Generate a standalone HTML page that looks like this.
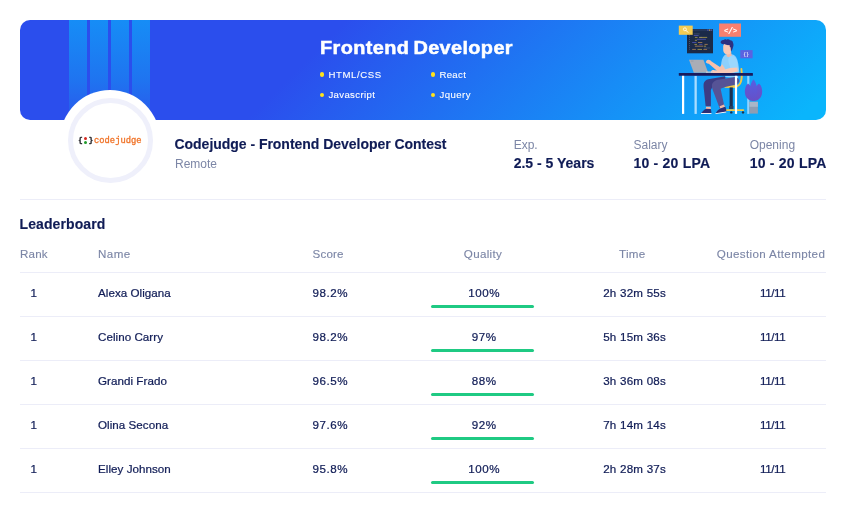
<!DOCTYPE html>
<html lang="en">
<head>
<meta charset="utf-8">
<title>Codejudge - Frontend Developer Contest</title>
<style>
*{box-sizing:border-box;margin:0;padding:0}
html,body{width:846px;height:505px;background:#fff;overflow:hidden}
body{font-family:"Liberation Sans",Arial,sans-serif;color:#101c56;position:relative}
.banner{position:absolute;left:20px;top:20px;width:806px;height:100px;border-radius:10px;overflow:hidden;
 background:linear-gradient(135deg,#2b4eed 0%,#2b4eed 36%,#0ab5fc 97%)}
.stripes{position:absolute;left:49px;top:0;height:100px;width:81px;
 background:
  linear-gradient(180deg,#168df6 0%,#1f74f0 60%,#2a58ec 100%) 0 0/18px 100% no-repeat,
  linear-gradient(180deg,#168df6 0%,#1f74f0 60%,#2a58ec 100%) 21px 0/18px 100% no-repeat,
  linear-gradient(180deg,#168df6 0%,#1f74f0 60%,#2a58ec 100%) 42px 0/18px 100% no-repeat,
  linear-gradient(180deg,#168df6 0%,#1f74f0 60%,#2a58ec 100%) 63px 0/18px 100% no-repeat}
.btitle{position:absolute;left:299.6px;top:16.4px;font-size:18.6px;line-height:24px;font-weight:700;color:#fff;white-space:nowrap;letter-spacing:0.35px;-webkit-text-stroke:0.5px #fff;transform-origin:0 50%;transform:scaleX(1.07);word-spacing:-1.6px}
.skill{position:absolute;font-size:9.6px;line-height:12px;color:#fff;white-space:nowrap;padding-left:8.4px;-webkit-text-stroke:0.1px #fff}
.skill:before{content:"";position:absolute;left:-0.2px;top:3.6px;width:4.2px;height:4.2px;border-radius:50%;background:#ffe31c}
.illus{position:absolute;left:650px;top:0}
.avatar{position:absolute;left:60px;top:90px;width:100px;height:100px;border-radius:50%;background:#fff}
.avatar .ring{position:absolute;left:7.5px;top:7.5px;width:85px;height:85px;border-radius:50%;border:5px solid #eff0fb;background:#fff}
.logo{position:absolute;left:18.3px;top:46.1px;font-family:"Liberation Mono",monospace;font-size:8.77px;line-height:10px;color:#f07226;white-space:nowrap;-webkit-text-stroke:0.3px #f07226}
.logo b{color:#2a2a2e;-webkit-text-stroke:0.35px #2a2a2e;font-size:7.3px;letter-spacing:0.88px;position:relative;top:-1.1px}
.logo i{color:transparent;-webkit-text-stroke:0;position:relative;font-style:normal}
.logo i:before,.logo i:after{content:"";position:absolute;left:0.5px;width:3.4px;height:3.4px;border-radius:50%}
.logo i:before{top:0.9px;background:#d4281f}
.logo i:after{top:4.7px;background:#1f9a2b}
.jt{position:absolute;left:174.5px;top:136px;font-size:14px;line-height:17px;font-weight:700;white-space:nowrap;letter-spacing:-0.03px;-webkit-text-stroke:0.15px #101c56}
.js{position:absolute;left:175px;top:157px;font-size:12px;line-height:14px;color:#7c86a6;white-space:nowrap}
.stat{position:absolute;top:138px;white-space:nowrap}
.stat span{display:block;font-size:12px;line-height:14px;color:#7c86a6}
.stat b{display:block;font-size:14px;line-height:17px;margin-top:3px;-webkit-text-stroke:0.15px #101c56}
.hr{position:absolute;left:20px;width:806px;height:1px;background:#ecedf8}
.lb{position:absolute;left:19.5px;top:216px;font-size:14px;line-height:17px;font-weight:700;letter-spacing:0.1px;-webkit-text-stroke:0.15px #101c56}
.th,.td{position:absolute;font-size:11.6px;line-height:14px;white-space:nowrap}
.td{-webkit-text-stroke:0.22px #101c56}
.th{color:#7c86a6;-webkit-text-stroke:0.12px #7c86a6}
.k1{left:30.6px}.k1h{left:20px;letter-spacing:0.17px}
.k2{left:98px;letter-spacing:0.05px}
.k3{left:312.6px;letter-spacing:0.55px}
.k4{left:484.2px;letter-spacing:0.6px}.k4h{left:483px;letter-spacing:0.33px}
.k5{left:634.6px;letter-spacing:0.22px}.k5h{left:632.3px;letter-spacing:0.32px}
.k6{left:772.6px;letter-spacing:-0.4px}.k6h{left:771px;letter-spacing:0.37px}
.c{transform:translateX(-50%)}
.bar{position:absolute;left:431px;width:103.4px;height:3.1px;margin-top:0.4px;border-radius:2px;background:#1fca83}
</style>
</head>
<body>
<div class="banner">
  <div class="stripes"></div>
  <div class="btitle">Frontend Developer</div>
  <div class="skill" style="left:300px;top:48.9px;letter-spacing:0.6px">HTML/CSS</div>
  <div class="skill" style="left:411px;top:48.9px;letter-spacing:0.34px">React</div>
  <div class="skill" style="left:300px;top:69px;letter-spacing:0.36px">Javascript</div>
  <div class="skill" style="left:411px;top:69px;letter-spacing:0.45px">Jquery</div>
<!--ILLUS--><svg class="illus" width="110" height="100" viewBox="670 20 110 100">
<defs>
<linearGradient id="lf" gradientUnits="userSpaceOnUse" x1="0" y1="79" x2="0" y2="101"><stop offset="0" stop-color="#5a5adf"/><stop offset="1" stop-color="#6a4fc4"/></linearGradient>
<linearGradient id="lf2" gradientUnits="userSpaceOnUse" x1="0" y1="79" x2="0" y2="101"><stop offset="0" stop-color="#5560e4"/><stop offset="1" stop-color="#6550c8"/></linearGradient>
</defs>
<!-- code window -->
<rect x="687" y="29.1" width="26" height="24.2" fill="#1b2a48"/>
<rect x="687" y="29.1" width="26" height="2" fill="#24365a"/>
<rect x="707.3" y="29.6" width="1.2" height="1" fill="#6a63d8"/><rect x="709" y="29.6" width="1.2" height="1" fill="#e8c34a"/><rect x="710.7" y="29.6" width="1.2" height="1" fill="#6a63d8"/>
<g stroke-width="0.8" fill="none" opacity="0.8">
<path d="M693.8 33.9h5.9M704 48h6" stroke="#4a5a78"/>
<path d="M693.8 35.5h4.8M696.9 39.3h9M692.2 42.5h4.2M699.2 44.4h3.2M699.2 37.4h2.8" stroke="#5d5fd0"/>
<path d="M694.9 37.4h2.6M699.2 37.4h8M694.9 40.3h2.1M694.4 44.4h2.6M704 46.2h2.1M697.5 49.4h4.5" stroke="#d8c04a"/>
<path d="M698 42.5h4.3M704.5 44.4h3.2M694.9 46.2h8.5M692.2 49.4h3.7M703.4 49.4h3.7" stroke="#d69a5a"/>
<path d="M689.5 35.5v14" stroke="#8fa0c0" stroke-width="0.6" stroke-dasharray="0.7 1.2"/>
</g>
<!-- yellow search -->
<rect x="678.8" y="25.6" width="13.9" height="9.2" fill="#f4cb52"/>
<circle cx="684.9" cy="29.3" r="1.5" fill="none" stroke="#fff" stroke-width="0.8"/>
<path d="M686 30.4l1.9 1.9" stroke="#fff" stroke-width="0.9" stroke-linecap="round"/>
<!-- coral tag -->
<rect x="719.1" y="23.5" width="21.9" height="13.3" fill="#f8806f"/>
<text x="730.2" y="33.1" font-family="Liberation Mono, monospace" font-weight="700" font-size="7.4" fill="#fff" text-anchor="middle" letter-spacing="-0.7">&lt;<tspan font-size="9.4" dy="0.7">/</tspan><tspan dy="-0.7">&gt;</tspan></text>
<!-- purple tag -->
<rect x="740.3" y="50.1" width="12.3" height="8.2" fill="#5b63e0"/>
<text x="746.6" y="56" font-family="Liberation Sans, sans-serif" font-size="6.2" fill="#fff" text-anchor="middle" letter-spacing="0.9">{}</text>
<!-- back legs -->
<rect x="694.5" y="75.8" width="2.3" height="38.1" fill="#a9dcff"/>
<rect x="747.2" y="75.8" width="2.2" height="38.1" fill="#8fd3ff"/>
<!-- chair -->
<path d="M741.4 69c0.6 5 0.4 10 -0.6 13c-0.8 2.6 -3 4.4 -6 4.8h-9.600000000000001" fill="none" stroke="#f2c744" stroke-width="1.9" stroke-linecap="round"/>
<path d="M724.8 85.200000000000003h14l-1.6 2.4h-10.2z" fill="#f2c744"/><rect x="729.6" y="87.4" width="3.2" height="21.6" fill="#1c3050"/>
<rect x="729" y="106" width="4.4" height="3" rx="0.6" fill="#2a4060"/>
<rect x="725.8" y="109.3" width="18.4" height="1.7" rx="0.8" fill="#f2c744"/>
<circle cx="731.3" cy="112.4" r="1.2" fill="#1c3050"/><circle cx="743" cy="112.4" r="1.2" fill="#1c3050"/>
<!-- back leg of person -->
<path d="M703.7 83.600000000000001c0.6 -2.4 2.4 -4 4.500000000000001 -4.4l17.1 -2.9l0 4l-12 5l-2.4 4.8l0 16.2h-5.3l-1.6 -15.8c-0.4 -2.6 -0.6 -4.8 -0.3 -6.9z" fill="#3d3c84"/>
<path d="M706 106.800000000000002h4.6l0.3 2.2h-5z" fill="#f3b9a5"/>
<path d="M701.3 113.6c0 -1.2 2.400000000000001 -3.6 4.8 -4.8l4.6 0.2c0.4 1 0.8 3 0.6 4.600000000000001z" fill="#2d2e74"/>
<rect x="701" y="113.100000000000001" width="10.5" height="0.9" fill="#fff"/>
<!-- front leg of person -->
<path d="M725.3 75.8h12.8v2.2l-4.2 -0.3l-8.6 -0.8z" fill="#8ed0fc"/><path d="M711.9 84.7c0.8 -2.4 2.6 -4 4.8 -4.6l18.2 -3.2c2.6 0.6 4.4 2.2 4.300000000000001 4.2c-0.4 1.8 -1.6 3 -3.2 3.4l-10.8 2.4l-4.6 1.9l3.800000000000001 17.4l-4.8 2.1l-5.800000000000001 -15.5c-1.2 -2.8 -2 -5.6 -1.9 -8.1z" fill="#565396"/>
<path d="M719.6 106.300000000000001l4.4 -1.7l1 2.4l-4.600000000000001 1.8z" fill="#f3b9a5"/>
<path d="M715.7 113.6c0.4 -1.6 2.6 -3.8 4.6 -5l5 -1.8c0.8 1.4 1.2 3.8 0.8 5.4z" fill="#2d2e74"/>
<path d="M715.5 113.2l10.7 -1.6v1l-10.7 1.4z" fill="#fff"/>
<!-- torso -->
<path d="M725.4 54.6c-2 1.2 -3.4 4 -4 7.600000000000001l-1.4 9.8c3 1.2 14 1.4 19.2 0.6c-0.2 -6 -1 -12 -3.2 -15.6c-1.2 -2 -3.6 -2.8 -6 -3z" fill="#8ed0fc"/>
<!-- neck + face -->
<path d="M726.4 52h4.8l0.4 4.4c-1.6 1.2 -4 1 -5 -0.4z" fill="#f3b9a5"/>
<path d="M723.2 46.200000000000003c0 -2 2 -3.2 4.2 -3.2c2.400000000000001 0 3.6 1.8 3.6 4.4v4.6c0 1.4 -1.4 2.400000000000001 -3.4 2.400000000000001c-2.6 0 -4.2 -1.6 -4.4 -4.2z" fill="#f9c9b6"/>
<!-- hair -->
<path d="M720.6 42.6c0 -1.8 1.6 -3 3 -2.6c0.600000000000001 -0.8 2.2 -1 3 -0.2c1 -0.8 2.8 -0.600000000000001 3.4 0.4c1.6 -0.2 3 1 3 2.6c0.8 1.6 0.6 3.6 -0.2 5c-0.2 1.6 -0.8 2.8 -1.8 3.4l-0.4 -3.8c-0.8 -0.4 -1.2 -1.4 -1 -2.4c-1.8 0.4 -3.8 0 -5 -1c-1.6 0.6 -3.4 0 -4 -1.4z" fill="#2d3180"/>
<!-- arm to laptop -->
<path d="M706.4 60.7c0.8 -1.2 2.6 -1.4 3.8 -0.4l1.4 1.2l8.4 5.6l2.2 -2.8l3 4.6l-3 3.6c-1 0.8 -2.2 0.8 -3.2 0l-10.2 -8.8c-1.2 0.2 -2.4 -0.4 -3 -1.400000000000001z" fill="#f7c0ab"/>
<!-- shirt sleeve -->
<path d="M730.5 56c3 -0.6 5.6 1.4 6.4 4.6l1.6 9.6l-7 1.6l-3 -9.8c-0.6 -2.6 0.2 -5.2 2 -6z" fill="#9bd7fd"/>
<!-- forearm on desk -->
<path d="M711 71.4c0.6 -1 2 -1.6 3.400000000000001 -1.2l6.6 0.4l9 -2.6l7.2 -0.6l0.8 4c-4 1.4 -10 1.8 -15 1.8h-12z" fill="#f9c9b6"/>
<!-- laptop -->
<path d="M689 59.8h14.4l4.8 12.9h-14.4z" fill="#a9adb6"/>
<path d="M691 61.1h2.4" stroke="#8d929c" stroke-width="0.6"/>
<path d="M706 71.6h7v1.1h-7z" fill="#c9ccd3"/>
<!-- desk -->
<rect x="678.8" y="72.9" width="74.1" height="2.9" rx="0.6" fill="#1a1a5c"/>
<!-- front legs -->
<rect x="682" y="75.8" width="2.2" height="38.1" fill="#fff"/>
<rect x="734.9" y="75.8" width="2.2" height="38.1" fill="#fff"/>
<!-- plant -->
<path d="M748 83.4C745.4 85.5 744.2 90 745.2 94.5C746.1 98.4 749.6 100.8 753.2 101C754 97 753.6 92 752 88.5C751 86.4 749.6 84.6 748 83.4Z" fill="url(#lf)"/>
<path d="M759 83.4C761.6 85.5 762.8 90 761.8 94.5C760.9 98.4 757.4 100.8 753.8 101C753 97 753.4 92 755 88.5C756 86.4 757.4 84.6 759 83.4Z" fill="url(#lf)"/>
<path d="M753.5 79.2C751 82 749.6 87 749.8 92C750 96.5 751.4 100 753.5 101C755.6 100 757 96.5 757.2 92C757.4 87 756 82 753.5 79.2Z" fill="url(#lf2)"/>
<rect x="749.4" y="101.8" width="8.5" height="11.8" fill="#8e9db2"/>
<rect x="749.4" y="101.8" width="8.5" height="5" fill="#a9b6c8"/>
</svg><!--/ILLUS-->
</div>
<div class="avatar"><div class="ring"></div><div class="logo"><b>{<i>:</i>}</b>codejudge</div></div>
<div class="jt">Codejudge - Frontend Developer Contest</div>
<div class="js">Remote</div>
<div class="stat" style="left:513.7px"><span>Exp.</span><b>2.5 - 5 Years</b></div>
<div class="stat" style="left:633.5px"><span>Salary</span><b style="letter-spacing:0.22px">10 - 20 LPA</b></div>
<div class="stat" style="left:749.7px"><span>Opening</span><b style="letter-spacing:0.22px">10 - 20 LPA</b></div>
<div class="hr" style="top:199px"></div>
<div class="lb">Leaderboard</div>
<div class="th k1h" style="top:247.2px">Rank</div>
<div class="th k2" style="top:247.2px;letter-spacing:0.45px">Name</div>
<div class="th k3" style="top:247.2px;letter-spacing:0.16px">Score</div>
<div class="th c k4h" style="top:247.2px">Quality</div>
<div class="th c k5h" style="top:247.2px">Time</div>
<div class="th c k6h" style="top:247.2px">Question Attempted</div>
<!--ROWS-->
<div class="hr" style="top:272px"></div>
<div class="td k1" style="top:286.2px">1</div>
<div class="td k2" style="top:286.2px">Alexa Oligana</div>
<div class="td k3" style="top:286.2px">98.2%</div>
<div class="td c k4" style="top:286.2px">100%</div>
<div class="bar" style="top:305px"></div>
<div class="td c k5" style="top:286.2px">2h 32m 55s</div>
<div class="td c k6" style="top:286.2px">11/11</div>
<div class="hr" style="top:316px"></div>
<div class="td k1" style="top:330.2px">1</div>
<div class="td k2" style="top:330.2px">Celino Carry</div>
<div class="td k3" style="top:330.2px">98.2%</div>
<div class="td c k4" style="top:330.2px">97%</div>
<div class="bar" style="top:349px"></div>
<div class="td c k5" style="top:330.2px">5h 15m 36s</div>
<div class="td c k6" style="top:330.2px">11/11</div>
<div class="hr" style="top:360px"></div>
<div class="td k1" style="top:374.2px">1</div>
<div class="td k2" style="top:374.2px">Grandi Frado</div>
<div class="td k3" style="top:374.2px">96.5%</div>
<div class="td c k4" style="top:374.2px">88%</div>
<div class="bar" style="top:393px"></div>
<div class="td c k5" style="top:374.2px">3h 36m 08s</div>
<div class="td c k6" style="top:374.2px">11/11</div>
<div class="hr" style="top:404px"></div>
<div class="td k1" style="top:418.2px">1</div>
<div class="td k2" style="top:418.2px">Olina Secona</div>
<div class="td k3" style="top:418.2px">97.6%</div>
<div class="td c k4" style="top:418.2px">92%</div>
<div class="bar" style="top:437px"></div>
<div class="td c k5" style="top:418.2px">7h 14m 14s</div>
<div class="td c k6" style="top:418.2px">11/11</div>
<div class="hr" style="top:448px"></div>
<div class="td k1" style="top:462.2px">1</div>
<div class="td k2" style="top:462.2px">Elley Johnson</div>
<div class="td k3" style="top:462.2px">95.8%</div>
<div class="td c k4" style="top:462.2px">100%</div>
<div class="bar" style="top:481px"></div>
<div class="td c k5" style="top:462.2px">2h 28m 37s</div>
<div class="td c k6" style="top:462.2px">11/11</div>
<div class="hr" style="top:492px"></div>
<!--/ROWS-->
</body>
</html>
